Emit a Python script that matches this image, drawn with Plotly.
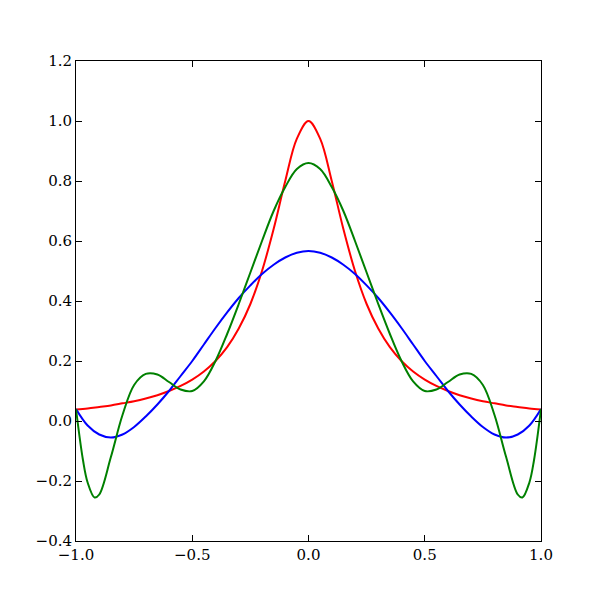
import plotly.graph_objects as go

x_half = [-1.0, -0.95, -0.9, -0.85, -0.8, -0.75, -0.7, -0.65, -0.6, -0.55, -0.5, -0.45, -0.4, -0.35, -0.3, -0.25, -0.2, -0.15, -0.1, -0.05, 0.0]
red_half = [0.038, 0.042, 0.047, 0.052, 0.059, 0.066, 0.075, 0.086, 0.100, 0.117, 0.138, 0.165, 0.200, 0.246, 0.308, 0.390, 0.500, 0.640, 0.800, 0.941, 1.0]
blue_half = [0.040, -0.015, -0.045, -0.055, -0.045, -0.020, 0.015, 0.055, 0.100, 0.150, 0.200, 0.255, 0.310, 0.362, 0.410, 0.452, 0.490, 0.521, 0.545, 0.561, 0.567]
green_half = [0.040, -0.205, -0.245, -0.120, 0.020, 0.120, 0.157, 0.155, 0.130, 0.105, 0.100, 0.132, 0.200, 0.290, 0.390, 0.495, 0.600, 0.700, 0.780, 0.840, 0.860]
green_extra_x = [-0.97, -0.92]
green_extra_y = [-0.130, -0.255]

def mirror(xs, ys):
    return xs + [-v for v in xs[-2::-1]], ys + ys[-2::-1]

gx = x_half[:1] + [green_extra_x[0], x_half[1], green_extra_x[1]] + x_half[2:]
gy = green_half[:1] + [green_extra_y[0], green_half[1], green_extra_y[1]] + green_half[2:]

fig = go.Figure()
for xs, ys, col in [(x_half, red_half, "red"), (x_half, blue_half, "blue"), (gx, gy, "green")]:
    xx, yy = mirror(xs, ys)
    fig.add_trace(go.Scatter(x=xx, y=yy, mode="lines", line=dict(color=col, width=2, shape="spline", smoothing=1.0), showlegend=False))

xt = [-1.0, -0.5, 0.0, 0.5, 1.0]
yt = [-0.4, -0.2, 0.0, 0.2, 0.4, 0.6, 0.8, 1.0, 1.2]
fmt = lambda v: f"{v:.1f}".replace("-", "\u2212")
axis = dict(showgrid=False, zeroline=False, showline=True, linecolor="black", linewidth=1,
            mirror="allticks", ticks="inside", ticklen=6, tickcolor="black")
fig.update_layout(
    width=600, height=600, plot_bgcolor="white", paper_bgcolor="white",
    margin=dict(l=68, r=67, t=53, b=67),
    font=dict(family="DejaVu Serif", size=15, color="black"),
    xaxis=dict(range=[-1, 1], tickvals=xt, ticktext=[fmt(v) for v in xt], **axis),
    yaxis=dict(range=[-0.4, 1.2], tickvals=yt, ticktext=[fmt(v) for v in yt], **axis),
)
fig.write_html("out.html")
